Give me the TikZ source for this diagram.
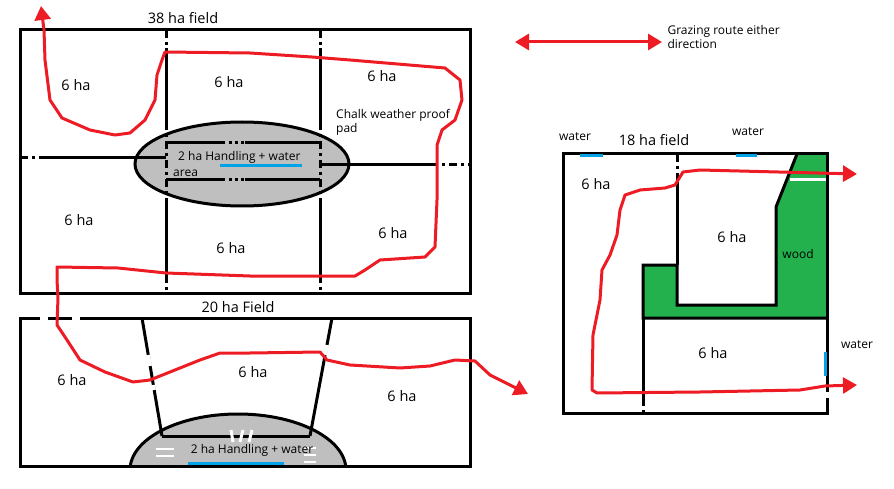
\documentclass[tikz,border=0pt]{standalone}
\usepackage{fontspec}
\setmainfont{Open Sans}
\usetikzlibrary{arrows.meta}
\definecolor{wgreen}{HTML}{22B14C}
\definecolor{rred}{HTML}{ED1C24}
\definecolor{wblue}{HTML}{00A2E8}
\begin{document}
\begin{tikzpicture}[x=1pt,y=-1pt,
  bl/.style={line width=3pt,black},
  dd/.style={line width=3pt,black,dash pattern=on 8pt off 4pt on 3pt off 4pt},
  route/.style={draw=rred,line width=3pt,line join=round},
  ha/.style={font=\fontsize{14.5}{16}\selectfont},
  sm/.style={font=\fontsize{12}{14}\selectfont,align=left},
  blu/.style={line width=3pt,wblue}]
\useasboundingbox (0,0) rectangle (894,489);
% ---- top field
\draw[bl] (20,30) rectangle (470,293);
\fill[gray!50,draw=black,line width=3pt] (242,164) ellipse (107 and 42);
\draw[bl] (166,48) -- (166,122); \draw[dd] (166,30) -- (166,48);
\draw[dd] (166,122) -- (166,206); \draw[bl] (166,206) -- (166,275); \draw[dd] (166,275)--(166,293);
\draw[bl] (320,48) -- (320,122); \draw[dd] (320,30) -- (320,48);
\draw[dd] (320,122) -- (320,206); \draw[bl] (320,206) -- (320,275); \draw[dd] (320,275)--(320,293);
\draw[dd] (20,158) -- (40,158); \draw[bl] (40,158) -- (166,158);
\draw[bl] (320,165) -- (430,165); \draw[dd] (430,165) -- (470,165);
\draw[bl] (166,143) -- (225,143); \draw[bl] (245,143) -- (320,143);
\draw[bl] (166,180) -- (225,180); \draw[bl] (245,180) -- (320,180);
\foreach \x in {229,235,241} {\fill (\x,141.5) rectangle +(3,3); \fill (\x,178.5) rectangle +(3,3);}
\draw[blu] (220,166) -- (302,166);
\node[ha] (t38) at (183,18) {38 ha field};
\node[ha] (a1) at (76,85) {6 ha};
\node[ha] (a2) at (229,82) {6 ha};
\node[ha] (a3) at (382,76) {6 ha};
\node[ha] (a4) at (79,220) {6 ha};
\node[ha] (a5) at (231,248) {6 ha};
\node[ha] (a6) at (393,233) {6 ha};
\node[sm,anchor=west,inner sep=0] (chalk) at (336,122) {Chalk weather proof\\pad};
\node[sm,anchor=west,inner sep=0] (hand1) at (178,157) {2 ha Handling + water};
\node[sm,anchor=west,inner sep=0] (hand1b) at (173,173) {area};
% ---- bottom field
\begin{scope}
\clip (20,318) rectangle (470,466);
\fill[gray!50,draw=black,line width=3pt] (238,470) ellipse (108 and 56);
\end{scope}
\draw[bl] (20,318) rectangle (470,466);
\draw[white,line width=3.5pt] (40,318) -- (48,318) (72,318) -- (80,318);
\draw[bl] (142,318) -- (162,436);
\draw[bl] (332,318) -- (310,436);
\draw[white,line width=4pt] (148,355) -- (150,366) (153,385)--(154,390) (327,345)--(325,355);
\draw[bl] (162,436) -- (310,436);
\draw[white,line width=3pt] (231,430) -- (233,442) (243,430) -- (240,442) (252,430) -- (249,442);
\draw[white,line width=2.5pt] (156,449) -- (174,449) (156,456) -- (174,456) (304,448) -- (316,448) (304,455) -- (316,455) (304,462)--(316,462);
\draw[blu] (188,463) -- (284,463);
\node[ha] (t20) at (238,307) {20 ha Field};
\node[ha] (b1) at (72,380) {6 ha};
\node[ha] (b2) at (253,372) {6 ha};
\node[ha] (b3) at (402,396) {6 ha};
\node[sm] (hand2) at (252,450) {2 ha Handling + water};
% ---- right field
\fill[wgreen] (797,154) -- (827,154) -- (827,318) -- (643,318) -- (643,265) -- (677,265) -- (677,305) -- (776,305) -- (776,207) -- cycle;
\draw[bl] (797,154) -- (776,207) -- (776,305) -- (677,305) -- (677,265) -- (643,265) -- (643,318) -- (827,318);
\draw[white,line width=3pt] (790,180) -- (829,180);
\draw[bl] (563,154) rectangle (827,413);
\draw[bl] (677,175) -- (677,265); \draw[dd] (677,154) -- (677,175);
\draw[bl] (643,318) -- (643,398); \draw[dd] (643,398) -- (643,413);
\draw[white,line width=3.5pt] (827,392) -- (827,398);
\draw[blu] (580,156) -- (603,156); \draw[blu] (736,156) -- (757,156);
\draw[blu] (825,352) -- (825,376);
\node[ha] (t18) at (654,140) {18 ha field};
\node[sm] (w1) at (575,137) {water};
\node[sm] (w2) at (748,132) {water};
\node[sm] (w3) at (857,345) {water};
\node[sm] (wood) at (798,254) {wood};
\node[ha] (r1) at (596,184) {6 ha};
\node[ha] (r2) at (732,237) {6 ha};
\node[ha] (r3) at (713,353) {6 ha};
% ---- legend
\coordinate (lgA) at (515,42); \coordinate (lgB) at (662,42);
\draw[route,{Triangle[width=16pt,length=14pt]}-{Triangle[width=16pt,length=14pt]}] (lgA) -- (lgB);
\node[sm,anchor=west] (leg) at (664,37) {Grazing route either\\direction};
% ---- routes
\coordinate (s1) at (41,6); \coordinate (e1) at (528,394);
\draw[route,{Triangle[width=16pt,length=14pt]}-{Triangle[width=16pt,length=14pt]}] (s1) -- (44,30) -- (45,60) -- (50,100) -- (62,118) -- (90,130) -- (115,135) -- (130,133) -- (145,120) -- (155,100) -- (157,75) -- (162,60) -- (165,52) -- (250,53) -- (312,57) -- (350,60) -- (445,68) -- (460,80) -- (462,100) -- (455,120) -- (442,130) -- (437,145) -- (437,200) -- (435,247) -- (425,257) -- (380,260) -- (365,270) -- (355,276) -- (250,276) -- (166,273) -- (118,268) -- (57,267) -- (57,280) -- (58,298) -- (57,325) -- (67,340) -- (80,360) -- (105,372) -- (133,382) -- (150,380) -- (175,370) -- (200,360) -- (220,353) -- (250,353) -- (320,352) -- (327,360) -- (350,365) -- (400,368) -- (430,366) -- (455,360) -- (475,361) -- (490,375) -- (e1);
\coordinate (s2) at (857,174); \coordinate (e2) at (857,385);
\draw[route,{Triangle[width=16pt,length=14pt]}-{Triangle[width=16pt,length=14pt]}] (s2) -- (700,170) -- (683,172) -- (675,185) -- (665,188) -- (640,190) -- (625,195) -- (620,210) -- (617,235) -- (610,255) -- (602,270) -- (600,300) -- (593,335) -- (592,390) -- (597,393) -- (700,392) -- (800,390) -- (825,386) -- (e2);
\end{tikzpicture}
\end{document}
